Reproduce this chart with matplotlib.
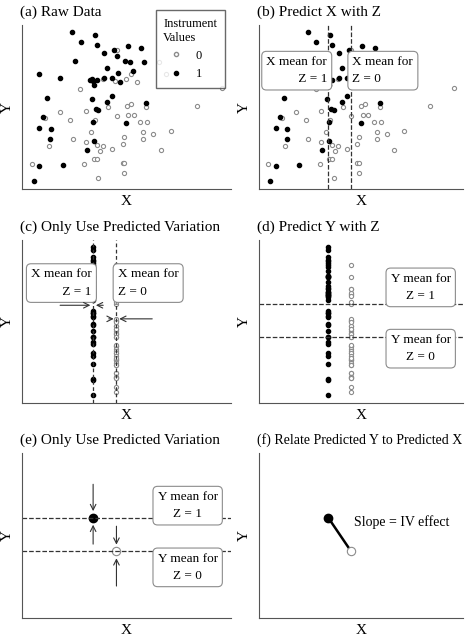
import numpy as np
import matplotlib
matplotlib.use("Agg")
import matplotlib.pyplot as plt
from matplotlib.lines import Line2D

plt.rcParams["font.family"] = ["Liberation Serif", "DejaVu Serif"]

# raw data, Z = 1 (black) and Z = 0 (grey hollow)
z1_x = [216, 285, 242, 290, 311, 343, 383, 424, 226, 350, 374, 389, 431, 320, 118, 179, 355, 398,
        313, 337, 270, 275, 280, 290, 360, 282, 276, 142, 335, 320, 438, 288, 295, 130, 118, 152,
        280, 378, 151, 282, 260, 117, 188, 101]
z1_y = [471, 462, 442, 432, 409, 418, 428, 424, 383, 398, 383, 380, 380, 364, 345, 334, 347, 353,
        334, 332, 326, 329, 324, 327, 321, 312, 271, 273, 278, 262, 259, 239, 236, 217, 184, 179,
        200, 199, 151, 143, 117, 68, 72, 23]
z0_x = [350, 476, 499, 310, 346, 379, 393, 410, 241, 665, 592, 180, 258, 323, 380, 393, 437, 350,
        385, 402, 136, 210, 285, 420, 440, 272, 428, 460, 512, 218, 372, 430, 258, 290, 310, 147,
        335, 368, 300, 482, 282, 290, 253, 368, 372, 95, 372, 295]
z0_y = [418, 381, 345, 329, 325, 331, 344, 322, 299, 304, 249, 232, 233, 247, 250, 255, 246, 218,
        223, 223, 212, 207, 207, 200, 200, 172, 172, 164, 174, 150, 157, 150, 142, 132, 130, 129,
        120, 135, 115, 116, 90, 90, 74, 77, 77, 74, 49, 32]

z1_x, z1_y, z0_x, z0_y = map(np.array, (z1_x, z1_y, z0_x, z0_y))
mx1, mx0 = z1_x.mean(), z0_x.mean()
my1, my0 = z1_y.mean(), z0_y.mean()

GREY = "#8c8c8c"
XLIM = (66, 693)
YLIM = (0, 492)

fig = plt.figure(figsize=(4.74, 6.43), dpi=100)
W, H = 474, 643


def make_ax(left, top, right, bottom, title, tsize=11):
    ax = fig.add_axes([left / W, 1 - bottom / H, (right - left) / W, (bottom - top) / H])
    ax.set_xlim(*XLIM)
    ax.set_ylim(*YLIM)
    for s in ("top", "right"):
        ax.spines[s].set_visible(False)
    for s in ("left", "bottom"):
        ax.spines[s].set_color("#555555")
    ax.set_xticks([])
    ax.set_yticks([])
    ax.set_xlabel("X", fontsize=11, labelpad=4)
    ax.set_ylabel("Y", fontsize=11, labelpad=6)
    fig.text(left / W - 0.005, 1 - (top - 13) / H, title, fontsize=tsize, va="center", ha="left")
    return ax


def dots(ax, x0, x1, y0, y1, ms=3):
    ax.plot(x0, y0, "o", ms=ms, mfc="white", mec=GREY, mew=0.8, ls="none")
    ax.plot(x1, y1, "o", ms=ms, color="black", ls="none")


box = dict(boxstyle="round,pad=0.35", fc="white", ec=GREY, lw=0.8)

ax_a = make_ax(22, 25, 231, 189, "(a) Raw Data")
ax_b = make_ax(259, 25, 463, 189, "(b) Predict X with Z")
ax_c = make_ax(22, 240, 231, 403, "(c) Only Use Predicted Variation")
ax_d = make_ax(259, 240, 463, 403, "(d) Predict Y with Z")
ax_e = make_ax(22, 453, 231, 618, "(e) Only Use Predicted Variation")
ax_f = make_ax(259, 453, 463, 618, "(f) Relate Predicted Y to Predicted X", tsize=10)

# (a)
dots(ax_a, z0_x, z1_x, z0_y, z1_y)
handles = [Line2D([], [], marker="o", ls="none", ms=3, mfc="white", mec=GREY),
           Line2D([], [], marker="o", ls="none", ms=3, color="black")]
leg = fig.legend(handles, ["0", "1"], title="Instrument\nValues", loc="upper right",
                 bbox_to_anchor=(231 / W, 1 - 4 / H), fontsize=9, title_fontsize=9,
                 frameon=True, fancybox=False, edgecolor="#444444", handletextpad=0.6,
                 borderpad=0.6)
leg._legend_box.align = "left"

# (b)
dots(ax_b, z0_x, z1_x, z0_y, z1_y)
for m in (mx1, mx0):
    ax_b.axvline(m, color="#333333", ls="--", lw=0.9)
ax_b.text(mx1 - 4, 355, "X mean for\n         Z = 1", ha="right", va="center", fontsize=9.5,
          bbox=box, linespacing=1.6)
ax_b.text(mx0 + 4, 355, "X mean for\nZ = 0", ha="left", va="center", fontsize=9.5,
          bbox=box, linespacing=1.6)

# (c)
dots(ax_c, np.full_like(z0_y, mx0, dtype=float), np.full_like(z1_y, mx1, dtype=float), z0_y, z1_y)
for m in (mx1, mx0):
    ax_c.axvline(m, color="#333333", ls=(0, (3, 2)), lw=0.9)
ax_c.text(mx1 - 4, 362, "X mean for\n         Z = 1", ha="right", va="center", fontsize=9.5,
          bbox=box, linespacing=1.6)
ax_c.text(mx0 + 4, 362, "X mean for\nZ = 0", ha="left", va="center", fontsize=9.5,
          bbox=box, linespacing=1.6)
arr = dict(arrowstyle="->", color="#333333", lw=0.8)
ax_c.annotate("", xy=(mx1, 295), xytext=(172, 295), arrowprops=arr)
ax_c.annotate("", xy=(mx1, 295), xytext=(318, 295), arrowprops=arr)
ax_c.annotate("", xy=(mx0, 254), xytext=(465, 254), arrowprops=arr)
ax_c.annotate("", xy=(mx0, 254), xytext=(318, 254), arrowprops=arr)

# (d)
dots(ax_d, np.full_like(z0_y, mx0, dtype=float), np.full_like(z1_y, mx1, dtype=float), z0_y, z1_y)
for m in (my1, my0):
    ax_d.axhline(m, color="#333333", ls="--", lw=0.9)
ax_d.text(563, 349, "Y mean for\nZ = 1", ha="center", va="center", fontsize=9.5,
          bbox=box, linespacing=1.6)
ax_d.text(563, 164, "Y mean for\nZ = 0", ha="center", va="center", fontsize=9.5,
          bbox=box, linespacing=1.6)

# (e)
dots(ax_e, [mx0], [mx1], [my0], [my1], ms=6)
for m in (my1, my0):
    ax_e.axhline(m, color="#333333", ls="--", lw=0.9)
ax_e.text(563, 335, "Y mean for\nZ = 1", ha="center", va="center", fontsize=9.5,
          bbox=box, linespacing=1.6)
ax_e.text(563, 151, "Y mean for\nZ = 0", ha="center", va="center", fontsize=9.5,
          bbox=box, linespacing=1.6)
ax_e.annotate("", xy=(mx1, my1 + 12), xytext=(mx1, 407), arrowprops=arr)
ax_e.annotate("", xy=(mx1, my1 - 12), xytext=(mx1, 212), arrowprops=arr)
ax_e.annotate("", xy=(mx0, my0 + 12), xytext=(mx0, 282), arrowprops=arr)
ax_e.annotate("", xy=(mx0, my0 - 12), xytext=(mx0, 87), arrowprops=arr)

# (f)
ax_f.plot([mx1, mx0], [my1, my0], color="black", lw=1.8)
dots(ax_f, [mx0], [mx1], [my0], [my1], ms=6)
ax_f.text(358, 285, "Slope = IV effect", ha="left", va="center", fontsize=10)

fig.savefig("out.png", dpi=100)
